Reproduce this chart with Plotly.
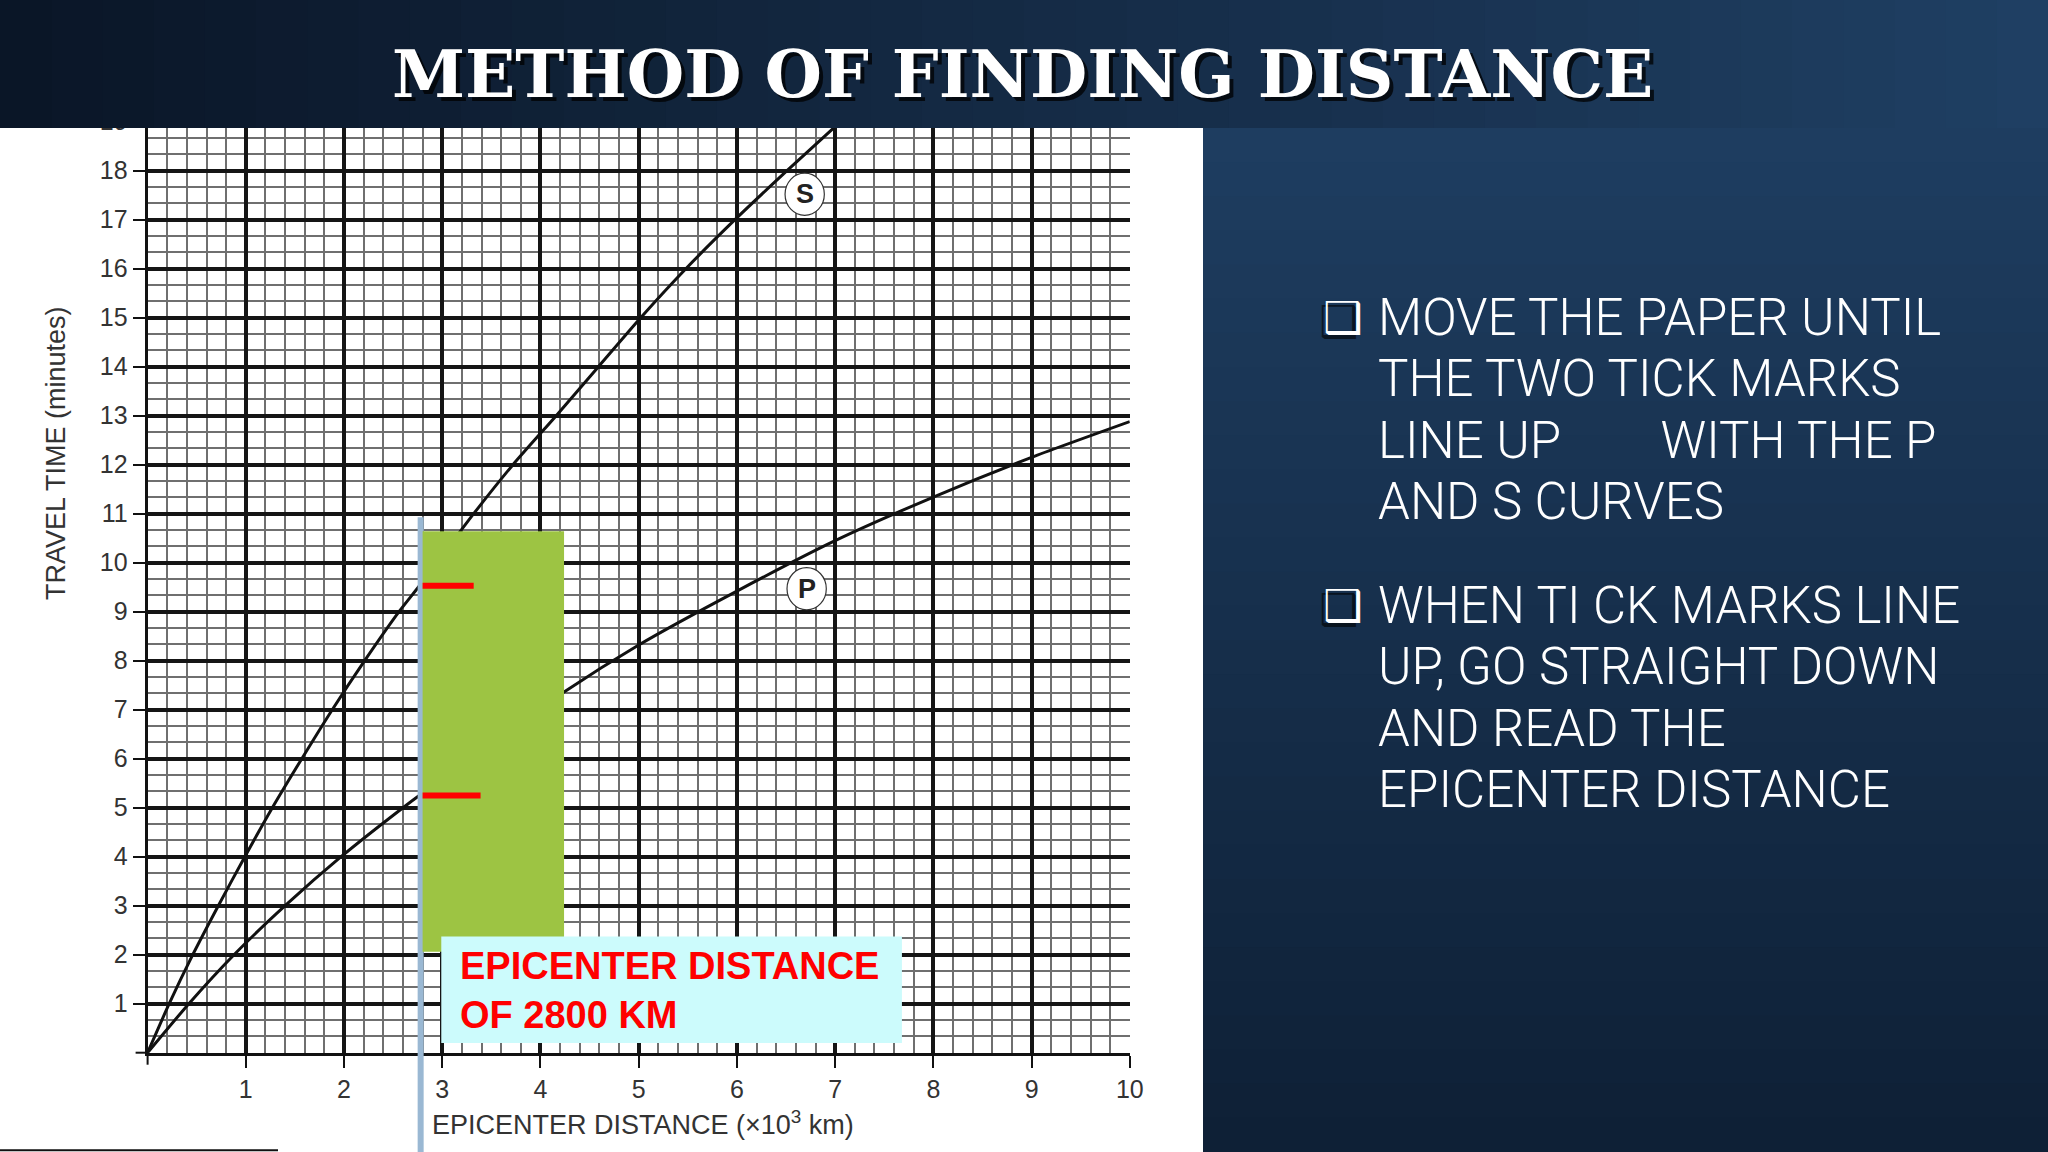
import plotly.graph_objects as go

# ---------------- data ----------------
s_distance = [0, 0.22, 0.46, 0.72, 0.99, 1.27, 1.57, 1.88, 2.21, 2.56, 2.78, 3.32, 3.72, 4.16, 4.59, 5.02, 5.48, 5.98, 6.51, 7.0]
s_minutes = [0, 1, 2, 3, 4, 5, 6, 7, 8, 9, 9.56, 11, 12, 13, 14, 15, 16, 17, 18, 18.9]

p_distance = [0, 0.42, 0.88, 1.4, 1.97, 2.6, 2.8, 4.24, 5, 6, 7, 8, 9, 10]
p_minutes = [0, 1, 2, 3, 4, 5, 5.3, 7.36, 8.32, 9.42, 10.45, 11.34, 12.15, 12.88]

x_ticks = [1, 2, 3, 4, 5, 6, 7, 8, 9, 10]
x_ticklabels = ["1", "2", "3", "4", "5", "6", "7", "8", "9", "10"]
y_ticks = list(range(1, 20))
y_ticklabels = [str(v) for v in range(1, 20)]

epicenter_distance = 2.78          # x of the paper edge (x10^3 km)
p_tick_minutes = 5.25              # red tick for P arrival
s_tick_minutes = 9.53              # red tick for S arrival
paper_strip = [2.80, 4.24, 2.06, 10.64]   # x0, x1, y0, y1 of the green strip
label_box = [2.99, 7.68, 0.2, 2.37]
curve_labels = ["S", "P"]
curve_label_x = [6.69, 6.71]
curve_label_y = [17.52, 9.47]

title_text = "METHOD OF FINDING DISTANCE"
bullet1 = ["MOVE THE PAPER UNTIL", "THE TWO TICK MARKS",
           "LINE UP" + "\u00a0" * 8 + "WITH THE P", "AND S CURVES"]
bullet2 = ["WHEN TI CK MARKS LINE", "UP, GO STRAIGHT DOWN",
           "AND READ THE", "EPICENTER DISTANCE"]

# ---------------- geometry ----------------
W, H = 2048, 1152
X_RANGE = (0, 10)
Y_RANGE = (0, 19.3)
X_DOM = (147.6 / W, 1129.8 / W)
Y_DOM = ((H - 1052.7) / H, (H - (1052.7 - 19.3 * 49.0)) / H)


def xp(v):
    return X_DOM[0] + (v - X_RANGE[0]) / (X_RANGE[1] - X_RANGE[0]) * (X_DOM[1] - X_DOM[0])


def yp(v):
    return Y_DOM[0] + (v - Y_RANGE[0]) / (Y_RANGE[1] - Y_RANGE[0]) * (Y_DOM[1] - Y_DOM[0])


def mix(c1, c2, t):
    a = [int(c1[i:i + 2], 16) for i in (1, 3, 5)]
    b = [int(c2[i:i + 2], 16) for i in (1, 3, 5)]
    return "rgb(%d,%d,%d)" % tuple(round(a[k] + (b[k] - a[k]) * t) for k in range(3))


fig = go.Figure()

fig.add_trace(go.Scatter(x=s_distance, y=s_minutes, mode="lines",
                         line=dict(color="#111111", width=3, shape="spline", smoothing=0.6),
                         hoverinfo="skip", showlegend=False))
fig.add_trace(go.Scatter(x=p_distance, y=p_minutes, mode="lines",
                         line=dict(color="#111111", width=3, shape="spline", smoothing=0.6),
                         hoverinfo="skip", showlegend=False))

shapes = []
header_px = 128
hy = 1 - header_px / H
panel_x = 1203 / W

# right panel background (vertical gradient)
n = 30
for i in range(n):
    y0 = hy * i / n
    y1 = hy * (i + 1) / n + 0.002
    shapes.append(dict(type="rect", xref="paper", yref="paper", x0=panel_x - 0.01, x1=1.0,
                       y0=y0, y1=y1, fillcolor=mix("#0e2036", "#1e3d60", i / (n - 1)),
                       line=dict(width=0), layer="below"))
# white paper panel
shapes.append(dict(type="rect", xref="paper", yref="paper", x0=0, x1=panel_x, y0=0, y1=hy,
                   fillcolor="white", line=dict(width=0), layer="below"))
# bottom-left stray edge line
shapes.append(dict(type="line", xref="paper", yref="paper", x0=0, x1=278 / W, y0=0.0015, y1=0.0015,
                   line=dict(color="#111111", width=2), layer="below"))
# ticks at the origin
shapes.append(dict(type="line", xref="paper", yref="paper", x0=X_DOM[0], x1=X_DOM[0],
                   y0=Y_DOM[0] - 12 / H, y1=Y_DOM[0], line=dict(color="#111111", width=2), layer="above"))
shapes.append(dict(type="line", xref="paper", yref="paper", x0=X_DOM[0] - 12 / W, x1=X_DOM[0],
                   y0=Y_DOM[0], y1=Y_DOM[0], line=dict(color="#111111", width=2), layer="above"))

# blue edge of the sliding paper
shapes.append(dict(type="line", xref="paper", yref="paper",
                   x0=xp(epicenter_distance), x1=xp(epicenter_distance),
                   y0=-0.01, y1=yp(10.93), line=dict(color="#9ab8d3", width=6), layer="above"))
# green strip
shapes.append(dict(type="rect", xref="x", yref="y", x0=paper_strip[0], x1=paper_strip[1],
                   y0=paper_strip[2], y1=paper_strip[3], fillcolor="#9dc443",
                   line=dict(width=0), layer="above"))
# red tick marks
shapes.append(dict(type="line", xref="x", yref="y", x0=2.80, x1=3.32, y0=s_tick_minutes, y1=s_tick_minutes,
                   line=dict(color="#ff0000", width=6), layer="above"))
shapes.append(dict(type="line", xref="x", yref="y", x0=2.80, x1=3.39, y0=p_tick_minutes, y1=p_tick_minutes,
                   line=dict(color="#ff0000", width=6), layer="above"))
# label box
shapes.append(dict(type="rect", xref="x", yref="y", x0=label_box[0], x1=label_box[1],
                   y0=label_box[2], y1=label_box[3], fillcolor="#ccfbfc",
                   line=dict(width=0), layer="above"))
# circled curve labels
for cx, cy in zip(curve_label_x, curve_label_y):
    shapes.append(dict(type="circle", xref="x", yref="y", x0=cx - 0.2, x1=cx + 0.2,
                       y0=cy - 0.43, y1=cy + 0.43, fillcolor="white",
                       line=dict(color="#333333", width=1.2), layer="above"))

# header band (horizontal gradient) drawn above the plot to crop it
m = 40
for i in range(m):
    shapes.append(dict(type="rect", xref="paper", yref="paper", x0=i / m, x1=(i + 1) / m + 0.002,
                       y0=hy, y1=1.0, fillcolor=mix("#0a1627", "#1f3f63", i / (m - 1)),
                       line=dict(width=0), layer="above"))

annotations = []
# title with shadow
for dx, dy, col in [(4, -4, "rgba(0,0,0,0.75)"), (0, 0, "white")]:
    annotations.append(dict(text="<b>" + title_text + "</b>", xref="paper", yref="paper",
                            x=1022 / W, y=1 - 74 / H, xshift=dx, yshift=dy, showarrow=False,
                            xanchor="center", yanchor="middle",
                            font=dict(family="DejaVu Serif", size=66, color=col)))

for lab, cx, cy in zip(curve_labels, curve_label_x, curve_label_y):
    annotations.append(dict(text="<b>" + lab + "</b>", x=cx, y=cy, xref="x", yref="y", showarrow=False,
                            font=dict(family="Liberation Sans", size=27, color="#222222")))

annotations.append(dict(text="<b>EPICENTER DISTANCE<br>OF 2800 KM</b>", x=3.16, y=1.26, xref="x", yref="y",
                        showarrow=False, xanchor="left", yanchor="middle", align="left",
                        font=dict(family="Liberation Sans", size=38, color="#ff0000")))

# axis titles
annotations.append(dict(text="TRAVEL TIME (minutes)", xref="paper", yref="paper", x=56 / W, y=1 - 453 / H,
                        textangle=-90, showarrow=False, xanchor="center", yanchor="middle",
                        font=dict(family="Liberation Sans", size=27, color="#333333")))
annotations.append(dict(text="EPICENTER DISTANCE (×10<sup>3</sup> km)", xref="paper", yref="paper",
                        x=643 / W, y=1 - 1123 / H, showarrow=False, xanchor="center", yanchor="middle",
                        font=dict(family="Liberation Sans", size=27, color="#333333")))

# bullet text on the right
line_gap = 61.5
for block, top in [(bullet1, 317), (bullet2, 605)]:
    for dx, dy, col in [(-4, -4, "rgba(0,0,0,0.6)"), (0, 0, "white")]:
        annotations.append(dict(text="\u2751", xref="paper", yref="paper", x=1342 / W, y=1 - top / H,
                                xshift=dx, yshift=dy, showarrow=False, xanchor="center", yanchor="middle",
                                font=dict(family="DejaVu Sans", size=44, color=col)))
    for k, line in enumerate(block):
        annotations.append(dict(text=line, xref="paper", yref="paper", x=1376 / W,
                                y=1 - (top + k * line_gap) / H, showarrow=False,
                                xanchor="left", yanchor="middle",
                                font=dict(family="Roboto", size=51, color="white", weight=300)))

axis_common = dict(showline=True, linecolor="#111111", linewidth=3, mirror=False,
                   ticks="outside", ticklen=12, tickwidth=2, tickcolor="#111111",
                   showgrid=True, gridcolor="#151515", gridwidth=3.5, zeroline=False,
                   tickfont=dict(family="Liberation Sans", size=25, color="#333333"),
                   automargin=False, fixedrange=True)

fig.update_layout(
    width=W, height=H,
    margin=dict(l=0, r=0, t=0, b=0),
    paper_bgcolor="#183452",
    plot_bgcolor="white",
    showlegend=False,
    xaxis=dict(domain=list(X_DOM), range=list(X_RANGE), tickmode="array", tickvals=x_ticks,
               ticktext=x_ticklabels,
               minor=dict(dtick=0.2, tick0=0, showgrid=True, gridcolor="#6f6f6f", gridwidth=1.5, ticks=""),
               **axis_common),
    yaxis=dict(domain=list(Y_DOM), range=list(Y_RANGE), tickmode="array", tickvals=y_ticks,
               ticktext=y_ticklabels,
               minor=dict(dtick=1 / 3, tick0=0, showgrid=True, gridcolor="#6f6f6f", gridwidth=1.5, ticks=""),
               **axis_common),
    shapes=shapes,
    annotations=annotations,
)

fig.write_html("out.html", config={"displayModeBar": False},
               post_script="document.body.style.margin='0px';document.body.style.overflow='hidden';")
